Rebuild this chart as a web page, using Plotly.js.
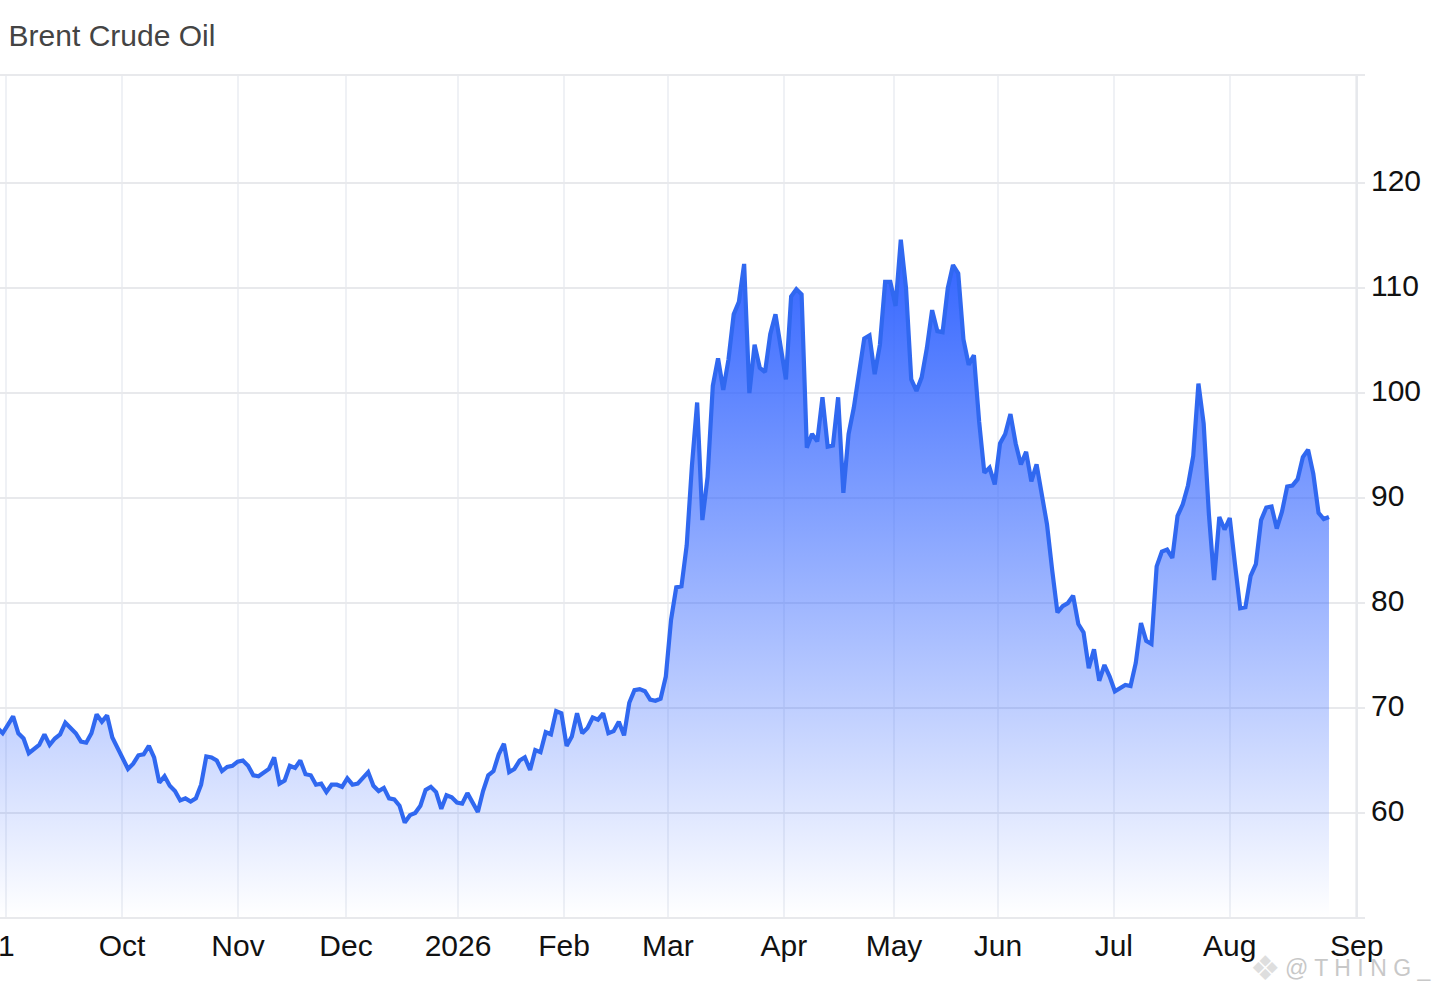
<!DOCTYPE html>
<html>
<head>
<meta charset="utf-8">
<script src="https://cdn.plot.ly/plotly-3.0.1.min.js"></script>
<style>
  html, body { margin: 0; padding: 0; background: #fff; overflow: hidden; }
</style>
</head>
<body>
<div id="chart"></div>
<script>
// Brent close, one value per trading day
const price = [
  68.1, 67.6, 68.4, 69.2, 67.6, 67.1, 65.7, 66.1, 66.5, 67.5,
  66.5, 67.1, 67.5, 68.6, 68.1, 67.6, 66.8, 66.7, 67.6, 69.4,
  68.7, 69.3, 67.2, 66.2, 65.4, 64.2, 64.7, 65.5, 65.6, 66.4,
  65.3, 62.9, 63.5, 62.6, 62.1, 61.2, 61.4, 61.1, 61.4, 62.7,
  65.4, 65.3, 65.0, 64.0, 64.4, 64.5, 64.9, 65.0, 64.5, 63.6,
  63.5, 63.8, 64.2, 65.3, 62.8, 63.1, 64.5, 64.3, 65.0, 63.7,
  63.6, 62.7, 62.8, 62.0, 62.7, 62.7, 62.5, 63.3, 62.7, 62.8,
  63.3, 63.9, 62.6, 62.1, 62.4, 61.4, 61.3, 60.7, 59.1, 59.8,
  60.0, 60.7, 62.2, 62.5, 62.0, 60.4, 61.7, 61.5, 61.0, 60.9,
  61.9, 60.9, 60.1, 62.1, 63.6, 64.0, 65.6, 66.6, 63.9, 64.2,
  65.0, 65.3, 64.1, 66.0, 65.8, 67.7, 67.5, 69.7, 69.5, 66.4,
  67.3, 69.5, 67.6, 68.1, 69.1, 68.9, 69.5, 67.6, 67.8, 68.7,
  67.4, 70.5, 71.7, 71.8, 71.6, 70.8, 70.7, 70.9, 73.0, 78.4,
  81.5, 81.6, 85.5, 93.1, 99.1, 87.9, 92.0, 100.7, 103.3, 100.3,
  103.2, 107.5, 108.7, 112.3, 100.0, 104.6, 102.4, 102.0, 105.6, 107.5,
  104.3, 101.3, 109.2, 109.9, 109.4, 94.8, 96.1, 95.4, 99.6, 94.9,
  95.0, 99.6, 90.5, 96.1, 98.6, 102.1, 105.2, 105.5, 101.8, 104.6,
  110.6, 110.6, 108.3, 114.6, 110.0, 101.3, 100.2, 101.5, 104.3, 107.9,
  105.9, 105.8, 110.0, 112.2, 111.4, 105.1, 102.7, 103.6, 97.3, 92.4,
  92.9, 91.3, 95.2, 96.1, 98.0, 95.2, 93.2, 94.4, 91.6, 93.2,
  90.1, 87.5, 83.1, 79.1, 79.7, 80.0, 80.7, 78.0, 77.2, 73.8,
  75.6, 72.6, 74.1, 73.0, 71.6, 71.9, 72.2, 72.1, 74.3, 78.1,
  76.4, 76.1, 83.5, 84.9, 85.1, 84.3, 88.3, 89.4, 91.2, 94.0,
  100.9, 97.1, 88.5, 82.2, 88.2, 87.0, 88.1, 83.7, 79.5, 79.6,
  82.6, 83.7, 87.9, 89.1, 89.2, 87.1, 88.7, 91.1, 91.2, 91.8,
  93.9, 94.6, 92.3, 88.6, 88.0, 88.2
];
const firstDay = -1;

const monthTicks = [0.7, 22.85, 45.07, 65.75, 87.2, 107.5, 127.4, 149.6, 170.7, 190.6, 212.8, 235, 259.3];
const monthLabels = ["1", "Oct", "Nov", "Dec", "2026", "Feb", "Mar", "Apr", "May", "Jun", "Jul", "Aug", "Sep"];
const priceTicks = [60, 70, 80, 90, 100, 110, 120];

const lineColor = "#3068f0";
const gridH = "#e8e9ec";
const gridV = "#eff1f5";

const trace = {
  x: price.map((_, i) => i + firstDay),
  y: price,
  mode: "lines",
  hoverinfo: "none",
  line: { color: lineColor, width: 4.2, shape: "linear" },
  fill: "tozeroy",
  fillgradient: {
    type: "vertical",
    start: 50.1,
    stop: 112,
    colorscale: [
      [0, "rgba(50,100,255,0.0)"],
      [1, "rgba(50,100,255,0.97)"]
    ]
  },
  showlegend: false
};

const layout = {
  width: 1432,
  height: 993,
  margin: { l: 0, r: 67, t: 76, b: 76, pad: 0 },
  paper_bgcolor: "#fff",
  plot_bgcolor: "#fff",
  font: { family: "Liberation Sans, Arial, sans-serif", size: 30, color: "#111" },
  title: {
    text: "Brent Crude Oil",
    font: { family: "Liberation Sans, Arial, sans-serif", size: 30, color: "#444" },
    xref: "paper",
    x: 0.0063,
    xanchor: "left",
    yref: "container",
    y: 0.964,
    yanchor: "middle"
  },
  xaxis: {
    range: [-0.511, 260.9],
    tickmode: "array",
    tickvals: monthTicks,
    ticktext: monthLabels,
    ticks: "",
    showgrid: true,
    gridcolor: gridV,
    gridwidth: 2,
    zeroline: false,
    showline: true,
    mirror: true,
    linecolor: gridH,
    linewidth: 2,
    ticklabelstandoff: 1,
    ticklabeloverflow: "allow",
    tickangle: 0,
    automargin: false
  },
  yaxis: {
    side: "right",
    range: [50.1, 130.2],
    tickmode: "array",
    tickvals: priceTicks,
    ticks: "",
    showgrid: true,
    gridcolor: gridH,
    gridwidth: 2,
    zeroline: false,
    showline: false,
    ticklabelstandoff: 5,
    ticklabelshift: -3,
    automargin: false
  },
  shapes: [
    {
      type: "line", xref: "x", yref: "paper",
      x0: 259.3, x1: 259.3, y0: 0, y1: 1,
      line: { color: "#e6e8ec", width: 2.5 }
    }
  ],
  annotations: [
    {
      text: "\u2756",
      xref: "paper", yref: "paper", x: 1265 / 1365, y: -51 / 841,
      xanchor: "center", yanchor: "middle",
      showarrow: false,
      font: { family: "DejaVu Sans", size: 34, color: "#dedede" }
    },
    {
      text: "@ T H I N G _",
      xref: "paper", yref: "paper", x: 1283 / 1365, y: -51 / 841,
      xanchor: "left", yanchor: "middle",
      showarrow: false,
      font: { family: "Liberation Sans, Arial, sans-serif", size: 23, color: "#c8c8c8" }
    }
  ]
};

Plotly.newPlot("chart", [trace], layout, { displayModeBar: false, staticPlot: true });
</script>
</body>
</html>
